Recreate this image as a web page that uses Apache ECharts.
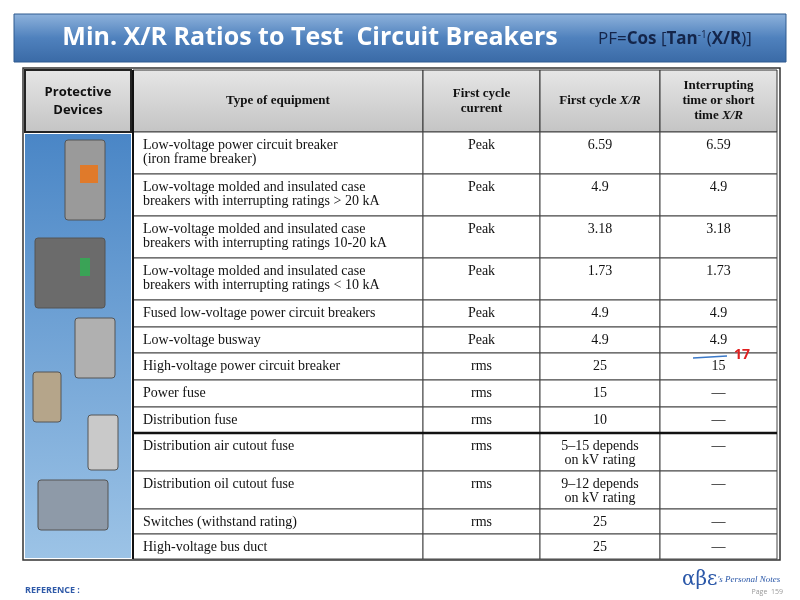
<!DOCTYPE html>
<html lang="en">
<head>
<meta charset="UTF-8">
<title>Min. X/R Ratios</title>
<script src="https://cdn.jsdelivr.net/npm/echarts@6/dist/echarts.min.js"></script>
<style>html,body{margin:0;background:#fff}</style>
</head>
<body>
<div id="main" style="width:800px;height:600px;"></div>
<script type="text/javascript">
// table data
var headers = ['Type of equipment', 'First cycle\ncurrent', 'First cycle X/R', 'Interrupting\ntime or short\ntime X/R'];
var equipment = [
    'Low-voltage power circuit breaker\n(iron frame breaker)',
    'Low-voltage molded and insulated case\nbreakers with interrupting ratings > 20 kA',
    'Low-voltage molded and insulated case\nbreakers with interrupting ratings 10-20 kA',
    'Low-voltage molded and insulated case\nbreakers with interrupting ratings < 10 kA',
    'Fused low-voltage power circuit breakers',
    'Low-voltage busway',
    'High-voltage power circuit breaker',
    'Power fuse',
    'Distribution fuse',
    'Distribution air cutout fuse',
    'Distribution oil cutout fuse',
    'Switches (withstand rating)',
    'High-voltage bus duct'
];
var firstCycleCurrent = ['Peak', 'Peak', 'Peak', 'Peak', 'Peak', 'Peak', 'rms', 'rms', 'rms', 'rms', 'rms', 'rms', ''];
var firstCycleXR = ['6.59', '4.9', '3.18', '1.73', '4.9', '4.9', '25', '15', '10', '5\u201315 depends\non kV rating', '9\u201312 depends\non kV rating', '25', '25'];
var interruptingXR = ['6.59', '4.9', '3.18', '1.73', '4.9', '4.9', '15', '\u2014', '\u2014', '\u2014', '\u2014', '\u2014', '\u2014'];
var rowHeights = [42, 42, 42, 42, 27, 26, 27, 27, 26, 38, 38, 25, 25];

var colX = [133, 423, 540, 660, 777];
var top0 = 70, headH = 62;
var serif = '"Liberation Serif", "DejaVu Serif", serif';

var g = [];
// title bar
g.push({type: 'rect', shape: {x: 14, y: 14, width: 772, height: 48},
    style: {fill: new echarts.graphic.LinearGradient(0, 0, 0, 1, [
        {offset: 0, color: '#8fb3dc'}, {offset: 0.5, color: '#4f81bd'}, {offset: 1, color: '#3a6aa6'}]),
        stroke: '#2f5a8f', lineWidth: 1}});
g.push({type: 'text', x: 310, y: 38, style: {text: 'Min. X/R Ratios to Test  Circuit Breakers',
    fill: '#fff', font: 'bold 25px "Open Sans", sans-serif', textAlign: 'center', textVerticalAlign: 'middle'}});
g.push({type: 'text', x: 598, y: 39, style: {rich: {
        a: {fill: '#14254a', fontSize: 17, fontFamily: 'Open Sans'},
        b: {fill: '#14254a', fontSize: 17, fontWeight: 'bold', fontFamily: 'Open Sans'},
        s: {fill: '#14254a', fontSize: 10, fontFamily: 'Open Sans', padding: [0, 0, 8, 0]}},
    text: '{a|PF=}{b|Cos }{a|[}{b|Tan}{s|-1}{a|(}{b|X/R}{a|)]}', textVerticalAlign: 'middle'}});

// outer frame
g.push({type: 'rect', shape: {x: 23, y: 68, width: 757, height: 492}, style: {fill: 'none', stroke: '#333', lineWidth: 1.5}});

var headFill = new echarts.graphic.LinearGradient(0, 0, 0, 1, [{offset: 0, color: '#e6e6e6'}, {offset: 1, color: '#c4c4c4'}]);
// left header box
g.push({type: 'rect', shape: {x: 25, y: top0, width: 106, height: headH}, style: {fill: headFill, stroke: '#222', lineWidth: 2}});
g.push({type: 'text', x: 78, y: top0 + headH / 2, style: {text: 'Protective\nDevices', fill: '#111',
    font: 'bold 13px "Open Sans", sans-serif', textAlign: 'center', textVerticalAlign: 'middle', lineHeight: 18}});
// left picture panel
g.push({type: 'rect', shape: {x: 25, y: top0 + headH + 2, width: 106, height: 424},
    style: {fill: new echarts.graphic.LinearGradient(0, 0, 0, 1, [{offset: 0, color: '#4a86c6'}, {offset: 1, color: '#9cc3e6'}])}});
// simple device sketches
var dev = [[65, 140, 40, 80, '#9a9a9a'], [35, 238, 70, 70, '#6b6b6b'], [75, 318, 40, 60, '#b0b0b0'], [33, 372, 28, 50, '#b5a58a'], [88, 415, 30, 55, '#c9c9c9'], [38, 480, 70, 50, '#8e9aa8']];
dev.forEach(function (d) {
    g.push({type: 'rect', shape: {x: d[0], y: d[1], width: d[2], height: d[3], r: 3}, style: {fill: d[4], stroke: '#555', lineWidth: 1}});
});
g.push({type: 'rect', shape: {x: 80, y: 165, width: 18, height: 18}, style: {fill: '#e07a2a'}});
g.push({type: 'rect', shape: {x: 80, y: 258, width: 10, height: 18}, style: {fill: '#3aa356'}});

// header row of main table
for (var c = 0; c < 4; c++) {
    g.push({type: 'rect', shape: {x: colX[c], y: top0, width: colX[c + 1] - colX[c], height: headH},
        style: {fill: headFill, stroke: '#333', lineWidth: 1}});
    var cx = (colX[c] + colX[c + 1]) / 2;
    var ht = headers[c];
    if (c === 2) {
        g.push({type: 'text', x: cx, y: top0 + headH / 2, style: {rich: {
            n: {font: 'bold 13px ' + serif, fill: '#111'}, i: {font: 'bold italic 13px ' + serif, fill: '#111'}},
            text: '{n|First cycle }{i|X/R}', textAlign: 'center', textVerticalAlign: 'middle'}});
    } else if (c === 3) {
        g.push({type: 'text', x: cx, y: top0 + headH / 2, style: {rich: {
            n: {font: 'bold 13px ' + serif, fill: '#111', lineHeight: 15}, i: {font: 'bold italic 13px ' + serif, fill: '#111', lineHeight: 15}},
            text: '{n|Interrupting}\n{n|time or short}\n{n|time }{i|X/R}', textAlign: 'center', textVerticalAlign: 'middle'}});
    } else {
        g.push({type: 'text', x: cx, y: top0 + headH / 2, style: {text: ht, fill: '#111',
            font: 'bold 13px ' + serif, textAlign: 'center', textVerticalAlign: 'middle', lineHeight: 15}});
    }
}

// body rows
var y = top0 + headH;
for (var r = 0; r < equipment.length; r++) {
    var h = rowHeights[r];
    var cells = [equipment[r], firstCycleCurrent[r], firstCycleXR[r], interruptingXR[r]];
    for (c = 0; c < 4; c++) {
        g.push({type: 'rect', shape: {x: colX[c], y: y, width: colX[c + 1] - colX[c], height: h},
            style: {fill: '#fff', stroke: '#444', lineWidth: 1}});
        var tx = c === 0 ? colX[0] + 10 : (colX[c] + colX[c + 1]) / 2;
        g.push({type: 'text', x: tx, y: y + 6, style: {text: cells[c], fill: '#111',
            font: '14px ' + serif, textAlign: c === 0 ? 'left' : 'center', textVerticalAlign: 'top', lineHeight: 14}});
    }
    y += h;
    if (r === 8) {
        g.push({type: 'line', shape: {x1: colX[0], y1: y, x2: colX[4], y2: y}, style: {stroke: '#111', lineWidth: 2.5}, z: 10});
    }
}
// thick column separator next to picture column
g.push({type: 'line', shape: {x1: 133, y1: top0, x2: 133, y2: y}, style: {stroke: '#111', lineWidth: 2}, z: 10});

// correction note
g.push({type: 'line', shape: {x1: 693, y1: 358, x2: 727, y2: 356}, style: {stroke: '#3a78c8', lineWidth: 1.5}, z: 11});
g.push({type: 'text', x: 742, y: 355, style: {text: '17', fill: '#e02020', font: 'bold 14px "Open Sans", sans-serif',
    textAlign: 'center', textVerticalAlign: 'middle'}, z: 11});

// footer
g.push({type: 'text', x: 25, y: 590, style: {text: 'REFERENCE :', fill: '#2f5aa8', font: 'bold 9px "Open Sans", sans-serif', textVerticalAlign: 'middle'}});
g.push({type: 'text', x: 682, y: 580, style: {rich: {
    g: {fill: '#2a57a8', font: '20px "DejaVu Serif", serif'},
    s: {fill: '#2a57a8', font: 'italic 9px "Liberation Serif", serif'}},
    text: '{g|\u03b1\u03b2\u03b5}{s|\'s Personal Notes}', textVerticalAlign: 'middle'}});
g.push({type: 'text', x: 783, y: 592, style: {text: 'Page  159', fill: '#999', font: '7px "Open Sans", sans-serif', textAlign: 'right', textVerticalAlign: 'middle'}});

var myChart = echarts.init(document.getElementById('main'));
myChart.setOption({graphic: {elements: g}});
</script>
</body>
</html>
